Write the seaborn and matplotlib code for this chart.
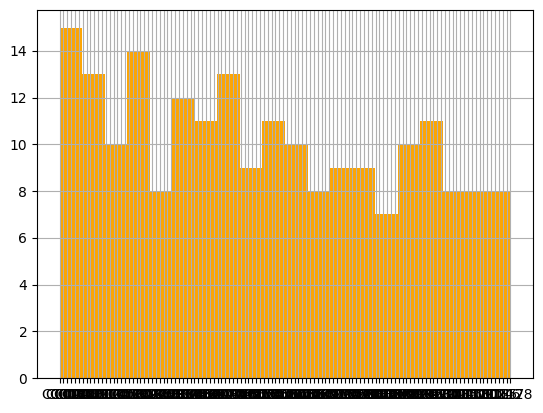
import numpy as np
import pandas as pd
import seaborn as sns
import matplotlib
matplotlib.use("Agg")
import matplotlib.pyplot as plt

# category names (unreadable in the original, they overlap completely)
categories = [f"C{i:03d}" for i in range(1, 119)]
categories[-1] = "Cx128"

# how many times each category occurs, in order of first appearance
counts = [3, 2, 3, 2, 3, 2,
          2, 3, 2, 2, 2, 2,
          2, 1, 2, 2, 1, 2,
          3, 2, 2, 3, 2, 2,
          1, 2, 1, 1, 2, 1,
          2, 2, 2, 2, 2, 2,
          2, 3, 2, 2, 2,
          2, 3, 2, 2, 2, 2,
          2, 1, 2, 1, 2, 1,
          2, 2, 1, 2, 2, 2,
          2, 1, 2, 2, 1, 2,
          1, 2, 1, 1, 2, 1,
          1, 2, 2, 1, 2, 1,
          2, 2, 1, 2, 2,
          1, 1, 2, 1, 1, 1,
          2, 2, 1, 2, 1, 2,
          2, 2, 2, 1, 2, 2,
          1, 2, 1, 1, 2, 1,
          2, 1, 1, 2, 1, 1,
          1, 1, 2, 1, 2, 1]

codes = np.repeat(np.arange(len(categories)), counts)
df = pd.DataFrame({"code": codes})

fig, ax = plt.subplots(figsize=(5.43, 4.13), dpi=100)
fig.subplots_adjust(left=37/543, right=533/543, top=1-10/413, bottom=1-378/413)

sns.histplot(data=df, x="code", bins=20, binrange=(0, len(categories) - 1),
             color="orange", alpha=1, linewidth=0, ax=ax)

ax.set_xticks(range(len(categories)))
ax.set_xticklabels(categories)
ax.set_xlabel("")
ax.set_ylabel("")
ax.grid(True)

plt.savefig("out.png", dpi=100)
